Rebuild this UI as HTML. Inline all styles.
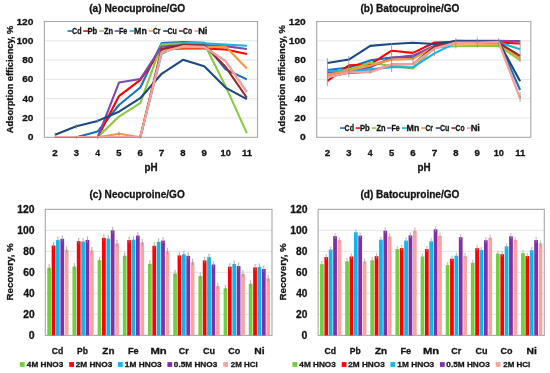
<!DOCTYPE html>
<html><head><meta charset="utf-8"><style>
html,body{margin:0;padding:0;background:#fff;width:550px;height:373px;overflow:hidden}
svg{display:block;will-change:transform}
text{stroke:#141414;stroke-width:0.3px}
</style></head><body>
<svg width="550" height="373" viewBox="0 0 550 373">
<rect width="550" height="373" fill="#fff"/>
<g font-family='"Liberation Sans", sans-serif' font-weight="bold" fill="#141414">
<line x1="44.4" y1="118" x2="257.5" y2="118" stroke="#e2e2e2" stroke-width="0.9"/>
<line x1="44.4" y1="98.7" x2="257.5" y2="98.7" stroke="#e2e2e2" stroke-width="0.9"/>
<line x1="44.4" y1="79.4" x2="257.5" y2="79.4" stroke="#e2e2e2" stroke-width="0.9"/>
<line x1="44.4" y1="60.1" x2="257.5" y2="60.1" stroke="#e2e2e2" stroke-width="0.9"/>
<line x1="44.4" y1="40.8" x2="257.5" y2="40.8" stroke="#e2e2e2" stroke-width="0.9"/>
<rect x="44.4" y="21.5" width="213.1" height="115.8" fill="none" stroke="#a8a8a8" stroke-width="1.1"/>
<clipPath id="cpa"><rect x="44.4" y="21.5" width="213.1" height="115.8"/></clipPath>
<g clip-path="url(#cpa)">
<polyline points="55.05,137.3 76.36,137.3 97.67,131.51 118.98,104.97 140.29,87.51 161.6,43.12 182.91,42.15 204.22,42.73 225.53,69.27 246.84,79.4" fill="none" stroke="#1a70c0" stroke-width="2.1" stroke-linejoin="round"/>
<polyline points="55.05,137.3 76.36,137.3 97.67,137.3 118.98,96.09 140.29,79.88 161.6,49.48 182.91,48.52 204.22,48.52 225.53,49.48 246.84,53.92" fill="none" stroke="#ff0000" stroke-width="2.1" stroke-linejoin="round"/>
<polyline points="55.05,137.3 76.36,137.3 97.67,137.3 118.98,116.55 140.29,103.14 161.6,44.37 182.91,43.41 204.22,43.41 225.53,86.16 246.84,133.15" fill="none" stroke="#8cc840" stroke-width="2.1" stroke-linejoin="round"/>
<polyline points="55.05,137.3 76.36,137.3 97.67,137.3 118.98,82.58 140.29,79.01 161.6,46.59 182.91,45.14 204.22,45.14 225.53,46.11 246.84,49" fill="none" stroke="#7d4aaa" stroke-width="2.1" stroke-linejoin="round"/>
<polyline points="55.05,137.3 76.36,137.3 97.67,137.3 118.98,137.3 140.29,137.3 161.6,53.92 182.91,43.21 204.22,43.21 225.53,44.56 246.84,45.82" fill="none" stroke="#14b4e6" stroke-width="2.1" stroke-linejoin="round"/>
<polyline points="55.05,137.3 76.36,137.3 97.67,137.3 118.98,133.73 140.29,137.3 161.6,49.48 182.91,47.56 204.22,47.56 225.53,46.59 246.84,68.4" fill="none" stroke="#f7963c" stroke-width="2.1" stroke-linejoin="round"/>
<polyline points="55.05,134.79 76.36,126.3 97.67,120.9 118.98,111.73 140.29,98.22 161.6,73.8 182.91,59.81 204.22,66.18 225.53,87.6 246.84,99.09" fill="none" stroke="#1a4a80" stroke-width="2.1" stroke-linejoin="round"/>
<polyline points="55.05,137.3 76.36,137.3 97.67,137.3 118.98,137.3 140.29,137.3 161.6,49.1 182.91,44.85 204.22,45.62 225.53,66.86 246.84,97.74" fill="none" stroke="#962828" stroke-width="2.1" stroke-linejoin="round"/>
<polyline points="55.05,137.3 76.36,137.3 97.67,137.3 118.98,137.3 140.29,137.3 161.6,52.38 182.91,46.3 204.22,47.07 225.53,61.07 246.84,91.95" fill="none" stroke="#f3a09e" stroke-width="2.4" stroke-linejoin="round"/>
</g>
<line x1="55.05" y1="132.67" x2="55.05" y2="136.91" stroke="#8c8c8c" stroke-width="0.8"/>
<line x1="76.36" y1="124.08" x2="76.36" y2="128.52" stroke="#8c8c8c" stroke-width="0.8"/>
<line x1="76.36" y1="135.85" x2="76.36" y2="138.75" stroke="#8c8c8c" stroke-width="0.8"/>
<line x1="97.67" y1="118.77" x2="97.67" y2="123.02" stroke="#8c8c8c" stroke-width="0.8"/>
<line x1="97.67" y1="135.37" x2="97.67" y2="139.23" stroke="#8c8c8c" stroke-width="0.8"/>
<line x1="118.98" y1="131.32" x2="118.98" y2="136.14" stroke="#8c8c8c" stroke-width="0.8"/>
<line x1="140.29" y1="135.85" x2="140.29" y2="138.75" stroke="#8c8c8c" stroke-width="0.8"/>
<text x="52.37" y="155.8" font-size="9.5" textLength="5.43" lengthAdjust="spacingAndGlyphs" >2</text>
<text x="73.8" y="155.8" font-size="9.5" textLength="5.26" lengthAdjust="spacingAndGlyphs" >3</text>
<text x="95.19" y="155.8" font-size="9.5" textLength="4.88" lengthAdjust="spacingAndGlyphs" >4</text>
<text x="116.34" y="155.8" font-size="9.5" textLength="5.25" lengthAdjust="spacingAndGlyphs" >5</text>
<text x="137.59" y="155.8" font-size="9.5" textLength="5.41" lengthAdjust="spacingAndGlyphs" >6</text>
<text x="158.82" y="155.8" font-size="9.5" textLength="5.57" lengthAdjust="spacingAndGlyphs" >7</text>
<text x="180.26" y="155.8" font-size="9.5" textLength="5.3" lengthAdjust="spacingAndGlyphs" >8</text>
<text x="201.54" y="155.8" font-size="9.5" textLength="5.4" lengthAdjust="spacingAndGlyphs" >9</text>
<text x="220.6" y="155.8" font-size="9.5" textLength="10.26" lengthAdjust="spacingAndGlyphs" >10</text>
<text x="241.92" y="155.8" font-size="9.5" textLength="10.13" lengthAdjust="spacingAndGlyphs" >11</text>
<text x="144.6" y="171" font-size="10.2" textLength="13.11" lengthAdjust="spacingAndGlyphs" >pH</text>
<text x="27.69" y="140.35" font-size="9.9" textLength="5.73" lengthAdjust="spacingAndGlyphs" >0</text>
<text x="22.25" y="121.05" font-size="9.9" textLength="11.16" lengthAdjust="spacingAndGlyphs" >20</text>
<text x="22.45" y="101.75" font-size="9.9" textLength="10.95" lengthAdjust="spacingAndGlyphs" >40</text>
<text x="22.23" y="82.45" font-size="9.9" textLength="11.18" lengthAdjust="spacingAndGlyphs" >60</text>
<text x="22.28" y="63.15" font-size="9.9" textLength="11.13" lengthAdjust="spacingAndGlyphs" >80</text>
<text x="16.46" y="43.85" font-size="9.9" textLength="16.96" lengthAdjust="spacingAndGlyphs" >100</text>
<text x="16.46" y="24.55" font-size="9.9" textLength="16.96" lengthAdjust="spacingAndGlyphs" >120</text>
<line x1="67.5" y1="31.05" x2="72.3" y2="31.05" stroke="#1a70c0" stroke-width="1.6"/>
<text x="72.11" y="34.1" font-size="8.4" textLength="9.46" lengthAdjust="spacingAndGlyphs" >Cd</text>
<line x1="83.2" y1="31.05" x2="87.9" y2="31.05" stroke="#ff0000" stroke-width="1.6"/>
<text x="87.49" y="34.1" font-size="8.4" textLength="9.83" lengthAdjust="spacingAndGlyphs" >Pb</text>
<line x1="99.2" y1="31.05" x2="103.9" y2="31.05" stroke="#8cc840" stroke-width="1.6"/>
<text x="103.88" y="34.1" font-size="8.4" textLength="9.08" lengthAdjust="spacingAndGlyphs" >Zn</text>
<line x1="114.6" y1="31.05" x2="119" y2="31.05" stroke="#7d4aaa" stroke-width="1.6"/>
<text x="118.92" y="34.1" font-size="8.4" textLength="8.32" lengthAdjust="spacingAndGlyphs" >Fe</text>
<line x1="129.5" y1="31.05" x2="134.4" y2="31.05" stroke="#14b4e6" stroke-width="1.6"/>
<text x="134.11" y="34.1" font-size="8.4" textLength="12.63" lengthAdjust="spacingAndGlyphs" >Mn</text>
<line x1="148.7" y1="31.05" x2="153.1" y2="31.05" stroke="#f7963c" stroke-width="1.6"/>
<text x="153.02" y="34.1" font-size="8.4" textLength="7.48" lengthAdjust="spacingAndGlyphs" >Cr</text>
<line x1="163.2" y1="31.05" x2="167.7" y2="31.05" stroke="#1a4a80" stroke-width="1.6"/>
<text x="167.51" y="34.1" font-size="8.4" textLength="9.46" lengthAdjust="spacingAndGlyphs" >Cu</text>
<line x1="178.9" y1="31.05" x2="183.2" y2="31.05" stroke="#962828" stroke-width="1.6"/>
<text x="183.02" y="34.1" font-size="8.4" textLength="9.04" lengthAdjust="spacingAndGlyphs" >Co</text>
<line x1="194.4" y1="31.05" x2="198.6" y2="31.05" stroke="#f3a09e" stroke-width="1.6"/>
<text x="198.18" y="34.1" font-size="8.4" textLength="9.28" lengthAdjust="spacingAndGlyphs" >Ni</text>
<line x1="316.7" y1="118" x2="530.8" y2="118" stroke="#e2e2e2" stroke-width="0.9"/>
<line x1="316.7" y1="98.7" x2="530.8" y2="98.7" stroke="#e2e2e2" stroke-width="0.9"/>
<line x1="316.7" y1="79.4" x2="530.8" y2="79.4" stroke="#e2e2e2" stroke-width="0.9"/>
<line x1="316.7" y1="60.1" x2="530.8" y2="60.1" stroke="#e2e2e2" stroke-width="0.9"/>
<line x1="316.7" y1="40.8" x2="530.8" y2="40.8" stroke="#e2e2e2" stroke-width="0.9"/>
<rect x="316.7" y="21.5" width="214.1" height="115.8" fill="none" stroke="#a8a8a8" stroke-width="1.1"/>
<clipPath id="cpb"><rect x="316.7" y="21.5" width="214.1" height="115.8"/></clipPath>
<g clip-path="url(#cpb)">
<polyline points="327.4,70.04 348.81,67.53 370.22,60.39 391.63,57.49 413.04,56.92 434.45,47.56 455.86,40.9 477.27,41.28 498.68,41.28 520.1,90.02" fill="none" stroke="#1a70c0" stroke-width="2.1" stroke-linejoin="round"/>
<polyline points="327.4,80.94 348.81,65.41 370.22,64.44 391.63,50.74 413.04,52.86 434.45,42.44 455.86,41.77 477.27,42.25 498.68,42.73 520.1,43.5" fill="none" stroke="#ff0000" stroke-width="2.1" stroke-linejoin="round"/>
<polyline points="327.4,72.65 348.81,69.65 370.22,62.8 391.63,66.08 413.04,68.4 434.45,47.56 455.86,46.3 477.27,46.01 498.68,45.62 520.1,60.49" fill="none" stroke="#8cc840" stroke-width="2.1" stroke-linejoin="round"/>
<polyline points="327.4,72.36 348.81,71.68 370.22,67.24 391.63,57.78 413.04,55.66 434.45,45.62 455.86,40.9 477.27,40.9 498.68,40.9 520.1,41.09" fill="none" stroke="#7d4aaa" stroke-width="2.1" stroke-linejoin="round"/>
<polyline points="327.4,70.91 348.81,71.68 370.22,69.36 391.63,67.24 413.04,67.24 434.45,53.34 455.86,42.73 477.27,42.25 498.68,42.25 520.1,49.2" fill="none" stroke="#14b4e6" stroke-width="2.1" stroke-linejoin="round"/>
<polyline points="327.4,74.77 348.81,70.72 370.22,65.5 391.63,59.62 413.04,58.85 434.45,46.59 455.86,43.7 477.27,43.7 498.68,43.7 520.1,58.17" fill="none" stroke="#f7963c" stroke-width="2.1" stroke-linejoin="round"/>
<polyline points="327.4,63 348.81,59.52 370.22,45.91 391.63,43.98 413.04,42.73 434.45,43.98 455.86,41.28 477.27,41.28 498.68,41.77 520.1,81.33" fill="none" stroke="#1a4a80" stroke-width="2.1" stroke-linejoin="round"/>
<polyline points="327.4,76.99 348.81,72.84 370.22,71.68 391.63,64.44 413.04,63.96 434.45,46.59 455.86,42.73 477.27,42.73 498.68,42.73 520.1,55.85" fill="none" stroke="#962828" stroke-width="2.1" stroke-linejoin="round"/>
<polyline points="327.4,77.28 348.81,72.36 370.22,72.07 391.63,64.44 413.04,63.96 434.45,48.71 455.86,42.73 477.27,42.73 498.68,42.25 520.1,98.41" fill="none" stroke="#f3a09e" stroke-width="2.4" stroke-linejoin="round"/>
</g>
<line x1="327.4" y1="57.98" x2="327.4" y2="85.96" stroke="#8c8c8c" stroke-width="0.8"/>
<line x1="348.81" y1="55.95" x2="348.81" y2="76.79" stroke="#8c8c8c" stroke-width="0.8"/>
<line x1="391.63" y1="42.83" x2="391.63" y2="72.16" stroke="#8c8c8c" stroke-width="0.8"/>
<line x1="413.04" y1="50.45" x2="413.04" y2="64.93" stroke="#8c8c8c" stroke-width="0.8"/>
<line x1="370.22" y1="68.79" x2="370.22" y2="73.61" stroke="#8c8c8c" stroke-width="0.8"/>
<line x1="434.45" y1="48.42" x2="434.45" y2="56.34" stroke="#8c8c8c" stroke-width="0.8"/>
<line x1="455.86" y1="38.19" x2="455.86" y2="48.42" stroke="#8c8c8c" stroke-width="0.8"/>
<line x1="477.27" y1="37.52" x2="477.27" y2="47.56" stroke="#8c8c8c" stroke-width="0.8"/>
<line x1="498.68" y1="38.19" x2="498.68" y2="47.27" stroke="#8c8c8c" stroke-width="0.8"/>
<line x1="520.1" y1="91.85" x2="520.1" y2="101.69" stroke="#8c8c8c" stroke-width="0.8"/>
<line x1="520.1" y1="39.84" x2="520.1" y2="62.03" stroke="#8c8c8c" stroke-width="0.8"/>
<text x="324.72" y="155.8" font-size="9.5" textLength="5.43" lengthAdjust="spacingAndGlyphs" >2</text>
<text x="346.25" y="155.8" font-size="9.5" textLength="5.26" lengthAdjust="spacingAndGlyphs" >3</text>
<text x="367.74" y="155.8" font-size="9.5" textLength="4.88" lengthAdjust="spacingAndGlyphs" >4</text>
<text x="388.99" y="155.8" font-size="9.5" textLength="5.25" lengthAdjust="spacingAndGlyphs" >5</text>
<text x="410.34" y="155.8" font-size="9.5" textLength="5.41" lengthAdjust="spacingAndGlyphs" >6</text>
<text x="431.67" y="155.8" font-size="9.5" textLength="5.57" lengthAdjust="spacingAndGlyphs" >7</text>
<text x="453.21" y="155.8" font-size="9.5" textLength="5.3" lengthAdjust="spacingAndGlyphs" >8</text>
<text x="474.59" y="155.8" font-size="9.5" textLength="5.4" lengthAdjust="spacingAndGlyphs" >9</text>
<text x="493.75" y="155.8" font-size="9.5" textLength="10.26" lengthAdjust="spacingAndGlyphs" >10</text>
<text x="515.17" y="155.8" font-size="9.5" textLength="10.13" lengthAdjust="spacingAndGlyphs" >11</text>
<text x="417.4" y="171" font-size="10.2" textLength="13.11" lengthAdjust="spacingAndGlyphs" >pH</text>
<text x="299.99" y="140.35" font-size="9.9" textLength="5.73" lengthAdjust="spacingAndGlyphs" >0</text>
<text x="294.55" y="121.05" font-size="9.9" textLength="11.16" lengthAdjust="spacingAndGlyphs" >20</text>
<text x="294.75" y="101.75" font-size="9.9" textLength="10.95" lengthAdjust="spacingAndGlyphs" >40</text>
<text x="294.53" y="82.45" font-size="9.9" textLength="11.18" lengthAdjust="spacingAndGlyphs" >60</text>
<text x="294.58" y="63.15" font-size="9.9" textLength="11.13" lengthAdjust="spacingAndGlyphs" >80</text>
<text x="288.76" y="43.85" font-size="9.9" textLength="16.96" lengthAdjust="spacingAndGlyphs" >100</text>
<text x="288.76" y="24.55" font-size="9.9" textLength="16.96" lengthAdjust="spacingAndGlyphs" >120</text>
<line x1="340" y1="128.05" x2="344.8" y2="128.05" stroke="#1a70c0" stroke-width="1.6"/>
<text x="344.61" y="131.1" font-size="8.4" textLength="9.46" lengthAdjust="spacingAndGlyphs" >Cd</text>
<line x1="355.7" y1="128.05" x2="360.4" y2="128.05" stroke="#ff0000" stroke-width="1.6"/>
<text x="359.99" y="131.1" font-size="8.4" textLength="9.83" lengthAdjust="spacingAndGlyphs" >Pb</text>
<line x1="371.7" y1="128.05" x2="376.4" y2="128.05" stroke="#8cc840" stroke-width="1.6"/>
<text x="376.38" y="131.1" font-size="8.4" textLength="9.08" lengthAdjust="spacingAndGlyphs" >Zn</text>
<line x1="387.1" y1="128.05" x2="391.5" y2="128.05" stroke="#7d4aaa" stroke-width="1.6"/>
<text x="391.42" y="131.1" font-size="8.4" textLength="8.32" lengthAdjust="spacingAndGlyphs" >Fe</text>
<line x1="402" y1="128.05" x2="406.9" y2="128.05" stroke="#14b4e6" stroke-width="1.6"/>
<text x="406.61" y="131.1" font-size="8.4" textLength="12.63" lengthAdjust="spacingAndGlyphs" >Mn</text>
<line x1="421.2" y1="128.05" x2="425.6" y2="128.05" stroke="#f7963c" stroke-width="1.6"/>
<text x="425.52" y="131.1" font-size="8.4" textLength="7.48" lengthAdjust="spacingAndGlyphs" >Cr</text>
<line x1="435.7" y1="128.05" x2="440.2" y2="128.05" stroke="#1a4a80" stroke-width="1.6"/>
<text x="440.01" y="131.1" font-size="8.4" textLength="9.46" lengthAdjust="spacingAndGlyphs" >Cu</text>
<line x1="451.4" y1="128.05" x2="455.7" y2="128.05" stroke="#962828" stroke-width="1.6"/>
<text x="455.52" y="131.1" font-size="8.4" textLength="9.04" lengthAdjust="spacingAndGlyphs" >Co</text>
<line x1="466.9" y1="128.05" x2="471.1" y2="128.05" stroke="#f3a09e" stroke-width="1.6"/>
<text x="470.68" y="131.1" font-size="8.4" textLength="9.28" lengthAdjust="spacingAndGlyphs" >Ni</text>
<line x1="45.3" y1="314.39" x2="272" y2="314.39" stroke="#e2e2e2" stroke-width="0.9"/>
<line x1="45.3" y1="293.38" x2="272" y2="293.38" stroke="#e2e2e2" stroke-width="0.9"/>
<line x1="45.3" y1="272.38" x2="272" y2="272.38" stroke="#e2e2e2" stroke-width="0.9"/>
<line x1="45.3" y1="251.37" x2="272" y2="251.37" stroke="#e2e2e2" stroke-width="0.9"/>
<line x1="45.3" y1="230.36" x2="272" y2="230.36" stroke="#e2e2e2" stroke-width="0.9"/>
<rect x="45.3" y="209.35" width="226.7" height="126.05" fill="none" stroke="#a8a8a8" stroke-width="1.1"/>
<rect x="47.26" y="267.75" width="3.75" height="67.65" fill="#70d040"/>
<line x1="49.13" y1="264.65" x2="49.13" y2="270.85" stroke="#8c8c8c" stroke-width="0.7"/>
<line x1="48.33" y1="264.65" x2="49.93" y2="264.65" stroke="#b0b0b0" stroke-width="0.5"/>
<rect x="51.64" y="245.48" width="3.75" height="89.92" fill="#ff0000"/>
<line x1="53.51" y1="242.38" x2="53.51" y2="248.58" stroke="#8c8c8c" stroke-width="0.7"/>
<line x1="52.71" y1="242.38" x2="54.31" y2="242.38" stroke="#b0b0b0" stroke-width="0.5"/>
<rect x="56.02" y="240.13" width="3.75" height="95.27" fill="#0db8f0"/>
<line x1="57.89" y1="237.03" x2="57.89" y2="243.23" stroke="#8c8c8c" stroke-width="0.7"/>
<line x1="57.09" y1="237.03" x2="58.69" y2="237.03" stroke="#b0b0b0" stroke-width="0.5"/>
<rect x="60.4" y="238.87" width="3.75" height="96.53" fill="#7f2faa"/>
<line x1="62.27" y1="235.77" x2="62.27" y2="241.97" stroke="#8c8c8c" stroke-width="0.7"/>
<line x1="61.47" y1="235.77" x2="63.07" y2="235.77" stroke="#b0b0b0" stroke-width="0.5"/>
<rect x="64.78" y="249.79" width="3.75" height="85.61" fill="#fba3a3"/>
<line x1="66.65" y1="246.69" x2="66.65" y2="252.89" stroke="#8c8c8c" stroke-width="0.7"/>
<line x1="65.85" y1="246.69" x2="67.45" y2="246.69" stroke="#b0b0b0" stroke-width="0.5"/>
<text x="51.84" y="353.6" font-size="9.6" textLength="11.52" lengthAdjust="spacingAndGlyphs" >Cd</text>
<rect x="72.45" y="266.6" width="3.75" height="68.8" fill="#70d040"/>
<line x1="74.32" y1="263.5" x2="74.32" y2="269.7" stroke="#8c8c8c" stroke-width="0.7"/>
<line x1="73.52" y1="263.5" x2="75.12" y2="263.5" stroke="#b0b0b0" stroke-width="0.5"/>
<rect x="76.83" y="241.18" width="3.75" height="94.22" fill="#ff0000"/>
<line x1="78.7" y1="238.08" x2="78.7" y2="244.28" stroke="#8c8c8c" stroke-width="0.7"/>
<line x1="77.9" y1="238.08" x2="79.5" y2="238.08" stroke="#b0b0b0" stroke-width="0.5"/>
<rect x="81.21" y="241.6" width="3.75" height="93.8" fill="#0db8f0"/>
<line x1="83.08" y1="238.5" x2="83.08" y2="244.7" stroke="#8c8c8c" stroke-width="0.7"/>
<line x1="82.28" y1="238.5" x2="83.88" y2="238.5" stroke="#b0b0b0" stroke-width="0.5"/>
<rect x="85.59" y="239.92" width="3.75" height="95.48" fill="#7f2faa"/>
<line x1="87.46" y1="236.82" x2="87.46" y2="243.02" stroke="#8c8c8c" stroke-width="0.7"/>
<line x1="86.66" y1="236.82" x2="88.26" y2="236.82" stroke="#b0b0b0" stroke-width="0.5"/>
<rect x="89.97" y="250.53" width="3.75" height="84.87" fill="#fba3a3"/>
<line x1="91.84" y1="247.43" x2="91.84" y2="253.63" stroke="#8c8c8c" stroke-width="0.7"/>
<line x1="91.04" y1="247.43" x2="92.64" y2="247.43" stroke="#b0b0b0" stroke-width="0.5"/>
<text x="77.11" y="353.6" font-size="9.6" textLength="10.92" lengthAdjust="spacingAndGlyphs" >Pb</text>
<rect x="97.64" y="260.3" width="3.75" height="75.1" fill="#70d040"/>
<line x1="99.51" y1="257.2" x2="99.51" y2="263.4" stroke="#8c8c8c" stroke-width="0.7"/>
<line x1="98.71" y1="257.2" x2="100.31" y2="257.2" stroke="#b0b0b0" stroke-width="0.5"/>
<rect x="102.02" y="237.82" width="3.75" height="97.58" fill="#ff0000"/>
<line x1="103.89" y1="234.72" x2="103.89" y2="240.92" stroke="#8c8c8c" stroke-width="0.7"/>
<line x1="103.09" y1="234.72" x2="104.69" y2="234.72" stroke="#b0b0b0" stroke-width="0.5"/>
<rect x="106.4" y="238.66" width="3.75" height="96.74" fill="#0db8f0"/>
<line x1="108.27" y1="235.56" x2="108.27" y2="241.76" stroke="#8c8c8c" stroke-width="0.7"/>
<line x1="107.47" y1="235.56" x2="109.07" y2="235.56" stroke="#b0b0b0" stroke-width="0.5"/>
<rect x="110.78" y="230.36" width="3.75" height="105.04" fill="#7f2faa"/>
<line x1="112.65" y1="227.26" x2="112.65" y2="233.46" stroke="#8c8c8c" stroke-width="0.7"/>
<line x1="111.85" y1="227.26" x2="113.45" y2="227.26" stroke="#b0b0b0" stroke-width="0.5"/>
<rect x="115.16" y="243.38" width="3.75" height="92.02" fill="#fba3a3"/>
<line x1="117.03" y1="240.28" x2="117.03" y2="246.48" stroke="#8c8c8c" stroke-width="0.7"/>
<line x1="116.23" y1="240.28" x2="117.83" y2="240.28" stroke="#b0b0b0" stroke-width="0.5"/>
<text x="102.33" y="353.6" font-size="9.6" textLength="12.11" lengthAdjust="spacingAndGlyphs" >Zn</text>
<rect x="122.83" y="255.78" width="3.75" height="79.62" fill="#70d040"/>
<line x1="124.7" y1="252.68" x2="124.7" y2="258.88" stroke="#8c8c8c" stroke-width="0.7"/>
<line x1="123.9" y1="252.68" x2="125.5" y2="252.68" stroke="#b0b0b0" stroke-width="0.5"/>
<rect x="127.21" y="240.13" width="3.75" height="95.27" fill="#ff0000"/>
<line x1="129.08" y1="237.03" x2="129.08" y2="243.23" stroke="#8c8c8c" stroke-width="0.7"/>
<line x1="128.28" y1="237.03" x2="129.88" y2="237.03" stroke="#b0b0b0" stroke-width="0.5"/>
<rect x="131.59" y="239.71" width="3.75" height="95.69" fill="#0db8f0"/>
<line x1="133.46" y1="236.61" x2="133.46" y2="242.81" stroke="#8c8c8c" stroke-width="0.7"/>
<line x1="132.66" y1="236.61" x2="134.26" y2="236.61" stroke="#b0b0b0" stroke-width="0.5"/>
<rect x="135.97" y="235.61" width="3.75" height="99.79" fill="#7f2faa"/>
<line x1="137.84" y1="232.51" x2="137.84" y2="238.71" stroke="#8c8c8c" stroke-width="0.7"/>
<line x1="137.04" y1="232.51" x2="138.64" y2="232.51" stroke="#b0b0b0" stroke-width="0.5"/>
<rect x="140.35" y="242.44" width="3.75" height="92.96" fill="#fba3a3"/>
<line x1="142.22" y1="239.34" x2="142.22" y2="245.54" stroke="#8c8c8c" stroke-width="0.7"/>
<line x1="141.42" y1="239.34" x2="143.02" y2="239.34" stroke="#b0b0b0" stroke-width="0.5"/>
<text x="127.9" y="353.6" font-size="9.6" textLength="10.73" lengthAdjust="spacingAndGlyphs" >Fe</text>
<rect x="148.01" y="263.87" width="3.75" height="71.53" fill="#70d040"/>
<line x1="149.89" y1="260.77" x2="149.89" y2="266.97" stroke="#8c8c8c" stroke-width="0.7"/>
<line x1="149.09" y1="260.77" x2="150.69" y2="260.77" stroke="#b0b0b0" stroke-width="0.5"/>
<rect x="152.39" y="245.8" width="3.75" height="89.6" fill="#ff0000"/>
<line x1="154.27" y1="242.7" x2="154.27" y2="248.9" stroke="#8c8c8c" stroke-width="0.7"/>
<line x1="153.47" y1="242.7" x2="155.07" y2="242.7" stroke="#b0b0b0" stroke-width="0.5"/>
<rect x="156.77" y="241.81" width="3.75" height="93.59" fill="#0db8f0"/>
<line x1="158.65" y1="238.71" x2="158.65" y2="244.91" stroke="#8c8c8c" stroke-width="0.7"/>
<line x1="157.85" y1="238.71" x2="159.45" y2="238.71" stroke="#b0b0b0" stroke-width="0.5"/>
<rect x="161.15" y="240.65" width="3.75" height="94.75" fill="#7f2faa"/>
<line x1="163.03" y1="237.55" x2="163.03" y2="243.75" stroke="#8c8c8c" stroke-width="0.7"/>
<line x1="162.23" y1="237.55" x2="163.83" y2="237.55" stroke="#b0b0b0" stroke-width="0.5"/>
<rect x="165.53" y="251.26" width="3.75" height="84.14" fill="#fba3a3"/>
<line x1="167.41" y1="248.16" x2="167.41" y2="254.36" stroke="#8c8c8c" stroke-width="0.7"/>
<line x1="166.61" y1="248.16" x2="168.21" y2="248.16" stroke="#b0b0b0" stroke-width="0.5"/>
<text x="150.45" y="353.6" font-size="9.6" textLength="16.25" lengthAdjust="spacingAndGlyphs" >Mn</text>
<rect x="173.2" y="273.53" width="3.75" height="61.87" fill="#70d040"/>
<line x1="175.08" y1="270.43" x2="175.08" y2="276.63" stroke="#8c8c8c" stroke-width="0.7"/>
<line x1="174.28" y1="270.43" x2="175.88" y2="270.43" stroke="#b0b0b0" stroke-width="0.5"/>
<rect x="177.58" y="255.36" width="3.75" height="80.04" fill="#ff0000"/>
<line x1="179.46" y1="252.26" x2="179.46" y2="258.46" stroke="#8c8c8c" stroke-width="0.7"/>
<line x1="178.66" y1="252.26" x2="180.26" y2="252.26" stroke="#b0b0b0" stroke-width="0.5"/>
<rect x="181.96" y="254.31" width="3.75" height="81.09" fill="#0db8f0"/>
<line x1="183.84" y1="251.21" x2="183.84" y2="257.41" stroke="#8c8c8c" stroke-width="0.7"/>
<line x1="183.04" y1="251.21" x2="184.64" y2="251.21" stroke="#b0b0b0" stroke-width="0.5"/>
<rect x="186.34" y="255.88" width="3.75" height="79.52" fill="#7f2faa"/>
<line x1="188.22" y1="252.78" x2="188.22" y2="258.98" stroke="#8c8c8c" stroke-width="0.7"/>
<line x1="187.42" y1="252.78" x2="189.02" y2="252.78" stroke="#b0b0b0" stroke-width="0.5"/>
<rect x="190.72" y="262.19" width="3.75" height="73.21" fill="#fba3a3"/>
<line x1="192.6" y1="259.09" x2="192.6" y2="265.29" stroke="#8c8c8c" stroke-width="0.7"/>
<line x1="191.8" y1="259.09" x2="193.4" y2="259.09" stroke="#b0b0b0" stroke-width="0.5"/>
<text x="178.72" y="353.6" font-size="9.6" textLength="9.9" lengthAdjust="spacingAndGlyphs" >Cr</text>
<rect x="198.39" y="276.05" width="3.75" height="59.35" fill="#70d040"/>
<line x1="200.27" y1="272.95" x2="200.27" y2="279.15" stroke="#8c8c8c" stroke-width="0.7"/>
<line x1="199.47" y1="272.95" x2="201.07" y2="272.95" stroke="#b0b0b0" stroke-width="0.5"/>
<rect x="202.77" y="260.4" width="3.75" height="75" fill="#ff0000"/>
<line x1="204.65" y1="257.3" x2="204.65" y2="263.5" stroke="#8c8c8c" stroke-width="0.7"/>
<line x1="203.85" y1="257.3" x2="205.45" y2="257.3" stroke="#b0b0b0" stroke-width="0.5"/>
<rect x="207.15" y="257.14" width="3.75" height="78.26" fill="#0db8f0"/>
<line x1="209.03" y1="254.04" x2="209.03" y2="260.24" stroke="#8c8c8c" stroke-width="0.7"/>
<line x1="208.23" y1="254.04" x2="209.83" y2="254.04" stroke="#b0b0b0" stroke-width="0.5"/>
<rect x="211.53" y="264.5" width="3.75" height="70.9" fill="#7f2faa"/>
<line x1="213.41" y1="261.4" x2="213.41" y2="267.6" stroke="#8c8c8c" stroke-width="0.7"/>
<line x1="212.61" y1="261.4" x2="214.21" y2="261.4" stroke="#b0b0b0" stroke-width="0.5"/>
<rect x="215.91" y="286.24" width="3.75" height="49.16" fill="#fba3a3"/>
<line x1="217.79" y1="283.14" x2="217.79" y2="289.34" stroke="#8c8c8c" stroke-width="0.7"/>
<line x1="216.99" y1="283.14" x2="218.59" y2="283.14" stroke="#b0b0b0" stroke-width="0.5"/>
<text x="203.06" y="353.6" font-size="9.6" textLength="12.07" lengthAdjust="spacingAndGlyphs" >Cu</text>
<rect x="223.58" y="288.34" width="3.75" height="47.06" fill="#70d040"/>
<line x1="225.46" y1="285.24" x2="225.46" y2="291.44" stroke="#8c8c8c" stroke-width="0.7"/>
<line x1="224.66" y1="285.24" x2="226.26" y2="285.24" stroke="#b0b0b0" stroke-width="0.5"/>
<rect x="227.96" y="266.7" width="3.75" height="68.7" fill="#ff0000"/>
<line x1="229.84" y1="263.6" x2="229.84" y2="269.8" stroke="#8c8c8c" stroke-width="0.7"/>
<line x1="229.04" y1="263.6" x2="230.64" y2="263.6" stroke="#b0b0b0" stroke-width="0.5"/>
<rect x="232.34" y="264.08" width="3.75" height="71.32" fill="#0db8f0"/>
<line x1="234.22" y1="260.98" x2="234.22" y2="267.18" stroke="#8c8c8c" stroke-width="0.7"/>
<line x1="233.42" y1="260.98" x2="235.02" y2="260.98" stroke="#b0b0b0" stroke-width="0.5"/>
<rect x="236.72" y="266.07" width="3.75" height="69.33" fill="#7f2faa"/>
<line x1="238.6" y1="262.97" x2="238.6" y2="269.17" stroke="#8c8c8c" stroke-width="0.7"/>
<line x1="237.8" y1="262.97" x2="239.4" y2="262.97" stroke="#b0b0b0" stroke-width="0.5"/>
<rect x="241.1" y="273.74" width="3.75" height="61.66" fill="#fba3a3"/>
<line x1="242.98" y1="270.64" x2="242.98" y2="276.84" stroke="#8c8c8c" stroke-width="0.7"/>
<line x1="242.18" y1="270.64" x2="243.78" y2="270.64" stroke="#b0b0b0" stroke-width="0.5"/>
<text x="228.15" y="353.6" font-size="9.6" textLength="12.02" lengthAdjust="spacingAndGlyphs" >Co</text>
<rect x="248.77" y="283.72" width="3.75" height="51.68" fill="#70d040"/>
<line x1="250.65" y1="280.62" x2="250.65" y2="286.82" stroke="#8c8c8c" stroke-width="0.7"/>
<line x1="249.85" y1="280.62" x2="251.45" y2="280.62" stroke="#b0b0b0" stroke-width="0.5"/>
<rect x="253.15" y="267.44" width="3.75" height="67.96" fill="#ff0000"/>
<line x1="255.03" y1="264.34" x2="255.03" y2="270.54" stroke="#8c8c8c" stroke-width="0.7"/>
<line x1="254.23" y1="264.34" x2="255.83" y2="264.34" stroke="#b0b0b0" stroke-width="0.5"/>
<rect x="257.53" y="266.91" width="3.75" height="68.49" fill="#0db8f0"/>
<line x1="259.41" y1="263.81" x2="259.41" y2="270.01" stroke="#8c8c8c" stroke-width="0.7"/>
<line x1="258.61" y1="263.81" x2="260.21" y2="263.81" stroke="#b0b0b0" stroke-width="0.5"/>
<rect x="261.91" y="269.01" width="3.75" height="66.39" fill="#7f2faa"/>
<line x1="263.79" y1="265.91" x2="263.79" y2="272.11" stroke="#8c8c8c" stroke-width="0.7"/>
<line x1="262.99" y1="265.91" x2="264.59" y2="265.91" stroke="#b0b0b0" stroke-width="0.5"/>
<rect x="266.29" y="278.47" width="3.75" height="56.93" fill="#fba3a3"/>
<line x1="268.17" y1="275.37" x2="268.17" y2="281.57" stroke="#8c8c8c" stroke-width="0.7"/>
<line x1="267.37" y1="275.37" x2="268.97" y2="275.37" stroke="#b0b0b0" stroke-width="0.5"/>
<text x="254.22" y="353.6" font-size="9.6" textLength="10.32" lengthAdjust="spacingAndGlyphs" >Ni</text>
<text x="28.78" y="338.75" font-size="10.1" textLength="5.85" lengthAdjust="spacingAndGlyphs" >0</text>
<text x="23.25" y="317.74" font-size="10.1" textLength="11.37" lengthAdjust="spacingAndGlyphs" >20</text>
<text x="23.45" y="296.73" font-size="10.1" textLength="11.16" lengthAdjust="spacingAndGlyphs" >40</text>
<text x="23.22" y="275.73" font-size="10.1" textLength="11.4" lengthAdjust="spacingAndGlyphs" >60</text>
<text x="23.28" y="254.72" font-size="10.1" textLength="11.34" lengthAdjust="spacingAndGlyphs" >80</text>
<text x="17.35" y="233.71" font-size="10.1" textLength="17.28" lengthAdjust="spacingAndGlyphs" >100</text>
<text x="17.35" y="212.7" font-size="10.1" textLength="17.28" lengthAdjust="spacingAndGlyphs" >120</text>
<rect x="19.9" y="362.1" width="4.8" height="4.8" fill="#70d040"/>
<text x="26.88" y="366.8" font-size="8" textLength="36.42" lengthAdjust="spacingAndGlyphs" >4M HNO3</text>
<rect x="69.2" y="362.1" width="4.8" height="4.8" fill="#ff0000"/>
<text x="75.71" y="366.8" font-size="8" textLength="36.58" lengthAdjust="spacingAndGlyphs" >2M HNO3</text>
<rect x="117.9" y="362.1" width="4.8" height="4.8" fill="#0db8f0"/>
<text x="124.88" y="366.8" font-size="8" textLength="36.82" lengthAdjust="spacingAndGlyphs" >1M HNO3</text>
<rect x="167.4" y="362.1" width="4.8" height="4.8" fill="#7f2faa"/>
<text x="173.88" y="366.8" font-size="8" textLength="43.32" lengthAdjust="spacingAndGlyphs" >0.5M HNO3</text>
<rect x="223.2" y="362.1" width="4.8" height="4.8" fill="#fba3a3"/>
<text x="230.72" y="366.8" font-size="8" textLength="26.94" lengthAdjust="spacingAndGlyphs" >2M HCl</text>
<line x1="318.1" y1="314.39" x2="544.3" y2="314.39" stroke="#e2e2e2" stroke-width="0.9"/>
<line x1="318.1" y1="293.38" x2="544.3" y2="293.38" stroke="#e2e2e2" stroke-width="0.9"/>
<line x1="318.1" y1="272.38" x2="544.3" y2="272.38" stroke="#e2e2e2" stroke-width="0.9"/>
<line x1="318.1" y1="251.37" x2="544.3" y2="251.37" stroke="#e2e2e2" stroke-width="0.9"/>
<line x1="318.1" y1="230.36" x2="544.3" y2="230.36" stroke="#e2e2e2" stroke-width="0.9"/>
<rect x="318.1" y="209.35" width="226.2" height="126.05" fill="none" stroke="#a8a8a8" stroke-width="1.1"/>
<rect x="320.03" y="264.18" width="3.75" height="71.22" fill="#70d040"/>
<line x1="321.91" y1="261.58" x2="321.91" y2="266.78" stroke="#a4a4a4" stroke-width="0.7"/>
<line x1="321.11" y1="261.58" x2="322.71" y2="261.58" stroke="#b0b0b0" stroke-width="0.5"/>
<rect x="324.41" y="257.04" width="3.75" height="78.36" fill="#ff0000"/>
<line x1="326.29" y1="254.44" x2="326.29" y2="259.64" stroke="#a4a4a4" stroke-width="0.7"/>
<line x1="325.49" y1="254.44" x2="327.09" y2="254.44" stroke="#b0b0b0" stroke-width="0.5"/>
<rect x="328.79" y="249.58" width="3.75" height="85.82" fill="#0db8f0"/>
<line x1="330.67" y1="246.98" x2="330.67" y2="252.18" stroke="#a4a4a4" stroke-width="0.7"/>
<line x1="329.87" y1="246.98" x2="331.47" y2="246.98" stroke="#b0b0b0" stroke-width="0.5"/>
<rect x="333.17" y="236.14" width="3.75" height="99.26" fill="#7f2faa"/>
<line x1="335.05" y1="233.54" x2="335.05" y2="238.74" stroke="#a4a4a4" stroke-width="0.7"/>
<line x1="334.25" y1="233.54" x2="335.85" y2="233.54" stroke="#b0b0b0" stroke-width="0.5"/>
<rect x="337.55" y="240.13" width="3.75" height="95.27" fill="#fba3a3"/>
<line x1="339.43" y1="237.53" x2="339.43" y2="242.73" stroke="#a4a4a4" stroke-width="0.7"/>
<line x1="338.63" y1="237.53" x2="340.23" y2="237.53" stroke="#b0b0b0" stroke-width="0.5"/>
<text x="324.61" y="353.6" font-size="9.6" textLength="11.52" lengthAdjust="spacingAndGlyphs" >Cd</text>
<rect x="345.17" y="261.35" width="3.75" height="74.05" fill="#70d040"/>
<line x1="347.04" y1="258.75" x2="347.04" y2="263.95" stroke="#a4a4a4" stroke-width="0.7"/>
<line x1="346.24" y1="258.75" x2="347.84" y2="258.75" stroke="#b0b0b0" stroke-width="0.5"/>
<rect x="349.55" y="256.51" width="3.75" height="78.89" fill="#ff0000"/>
<line x1="351.42" y1="253.91" x2="351.42" y2="259.11" stroke="#a4a4a4" stroke-width="0.7"/>
<line x1="350.62" y1="253.91" x2="352.22" y2="253.91" stroke="#b0b0b0" stroke-width="0.5"/>
<rect x="353.93" y="232.25" width="3.75" height="103.15" fill="#0db8f0"/>
<line x1="355.8" y1="229.65" x2="355.8" y2="234.85" stroke="#a4a4a4" stroke-width="0.7"/>
<line x1="355" y1="229.65" x2="356.6" y2="229.65" stroke="#b0b0b0" stroke-width="0.5"/>
<rect x="358.31" y="235.61" width="3.75" height="99.79" fill="#7f2faa"/>
<line x1="360.18" y1="233.01" x2="360.18" y2="238.21" stroke="#a4a4a4" stroke-width="0.7"/>
<line x1="359.38" y1="233.01" x2="360.98" y2="233.01" stroke="#b0b0b0" stroke-width="0.5"/>
<rect x="362.69" y="261.35" width="3.75" height="74.05" fill="#fba3a3"/>
<line x1="364.56" y1="258.75" x2="364.56" y2="263.95" stroke="#a4a4a4" stroke-width="0.7"/>
<line x1="363.76" y1="258.75" x2="365.36" y2="258.75" stroke="#b0b0b0" stroke-width="0.5"/>
<text x="349.83" y="353.6" font-size="9.6" textLength="10.92" lengthAdjust="spacingAndGlyphs" >Pb</text>
<rect x="370.3" y="260.3" width="3.75" height="75.1" fill="#70d040"/>
<line x1="372.17" y1="257.7" x2="372.17" y2="262.9" stroke="#a4a4a4" stroke-width="0.7"/>
<line x1="371.37" y1="257.7" x2="372.97" y2="257.7" stroke="#b0b0b0" stroke-width="0.5"/>
<rect x="374.68" y="256.2" width="3.75" height="79.2" fill="#ff0000"/>
<line x1="376.55" y1="253.6" x2="376.55" y2="258.8" stroke="#a4a4a4" stroke-width="0.7"/>
<line x1="375.75" y1="253.6" x2="377.35" y2="253.6" stroke="#b0b0b0" stroke-width="0.5"/>
<rect x="379.06" y="239.71" width="3.75" height="95.69" fill="#0db8f0"/>
<line x1="380.93" y1="237.11" x2="380.93" y2="242.31" stroke="#a4a4a4" stroke-width="0.7"/>
<line x1="380.13" y1="237.11" x2="381.73" y2="237.11" stroke="#b0b0b0" stroke-width="0.5"/>
<rect x="383.44" y="230.67" width="3.75" height="104.73" fill="#7f2faa"/>
<line x1="385.31" y1="228.07" x2="385.31" y2="233.27" stroke="#a4a4a4" stroke-width="0.7"/>
<line x1="384.51" y1="228.07" x2="386.11" y2="228.07" stroke="#b0b0b0" stroke-width="0.5"/>
<rect x="387.82" y="236.45" width="3.75" height="98.95" fill="#fba3a3"/>
<line x1="389.69" y1="233.85" x2="389.69" y2="239.05" stroke="#a4a4a4" stroke-width="0.7"/>
<line x1="388.89" y1="233.85" x2="390.49" y2="233.85" stroke="#b0b0b0" stroke-width="0.5"/>
<text x="374.99" y="353.6" font-size="9.6" textLength="12.11" lengthAdjust="spacingAndGlyphs" >Zn</text>
<rect x="395.43" y="249.06" width="3.75" height="86.34" fill="#70d040"/>
<line x1="397.31" y1="246.46" x2="397.31" y2="251.66" stroke="#a4a4a4" stroke-width="0.7"/>
<line x1="396.51" y1="246.46" x2="398.11" y2="246.46" stroke="#b0b0b0" stroke-width="0.5"/>
<rect x="399.81" y="248.11" width="3.75" height="87.29" fill="#ff0000"/>
<line x1="401.69" y1="245.51" x2="401.69" y2="250.71" stroke="#a4a4a4" stroke-width="0.7"/>
<line x1="400.89" y1="245.51" x2="402.49" y2="245.51" stroke="#b0b0b0" stroke-width="0.5"/>
<rect x="404.19" y="240.55" width="3.75" height="94.85" fill="#0db8f0"/>
<line x1="406.07" y1="237.95" x2="406.07" y2="243.15" stroke="#a4a4a4" stroke-width="0.7"/>
<line x1="405.27" y1="237.95" x2="406.87" y2="237.95" stroke="#b0b0b0" stroke-width="0.5"/>
<rect x="408.57" y="235.4" width="3.75" height="100" fill="#7f2faa"/>
<line x1="410.45" y1="232.8" x2="410.45" y2="238" stroke="#a4a4a4" stroke-width="0.7"/>
<line x1="409.65" y1="232.8" x2="411.25" y2="232.8" stroke="#b0b0b0" stroke-width="0.5"/>
<rect x="412.95" y="230.67" width="3.75" height="104.73" fill="#fba3a3"/>
<line x1="414.83" y1="228.07" x2="414.83" y2="233.27" stroke="#a4a4a4" stroke-width="0.7"/>
<line x1="414.03" y1="228.07" x2="415.63" y2="228.07" stroke="#b0b0b0" stroke-width="0.5"/>
<text x="400.5" y="353.6" font-size="9.6" textLength="10.73" lengthAdjust="spacingAndGlyphs" >Fe</text>
<rect x="420.56" y="256.51" width="3.75" height="78.89" fill="#70d040"/>
<line x1="422.44" y1="253.91" x2="422.44" y2="259.11" stroke="#a4a4a4" stroke-width="0.7"/>
<line x1="421.64" y1="253.91" x2="423.24" y2="253.91" stroke="#b0b0b0" stroke-width="0.5"/>
<rect x="424.94" y="249.06" width="3.75" height="86.34" fill="#ff0000"/>
<line x1="426.82" y1="246.46" x2="426.82" y2="251.66" stroke="#a4a4a4" stroke-width="0.7"/>
<line x1="426.02" y1="246.46" x2="427.62" y2="246.46" stroke="#b0b0b0" stroke-width="0.5"/>
<rect x="429.32" y="241.28" width="3.75" height="94.12" fill="#0db8f0"/>
<line x1="431.2" y1="238.68" x2="431.2" y2="243.88" stroke="#a4a4a4" stroke-width="0.7"/>
<line x1="430.4" y1="238.68" x2="432" y2="238.68" stroke="#b0b0b0" stroke-width="0.5"/>
<rect x="433.7" y="229.31" width="3.75" height="106.09" fill="#7f2faa"/>
<line x1="435.58" y1="226.71" x2="435.58" y2="231.91" stroke="#a4a4a4" stroke-width="0.7"/>
<line x1="434.78" y1="226.71" x2="436.38" y2="226.71" stroke="#b0b0b0" stroke-width="0.5"/>
<rect x="438.08" y="235.72" width="3.75" height="99.68" fill="#fba3a3"/>
<line x1="439.96" y1="233.12" x2="439.96" y2="238.32" stroke="#a4a4a4" stroke-width="0.7"/>
<line x1="439.16" y1="233.12" x2="440.76" y2="233.12" stroke="#b0b0b0" stroke-width="0.5"/>
<text x="423" y="353.6" font-size="9.6" textLength="16.25" lengthAdjust="spacingAndGlyphs" >Mn</text>
<rect x="445.7" y="265.13" width="3.75" height="70.27" fill="#70d040"/>
<line x1="447.57" y1="262.53" x2="447.57" y2="267.73" stroke="#a4a4a4" stroke-width="0.7"/>
<line x1="446.77" y1="262.53" x2="448.37" y2="262.53" stroke="#b0b0b0" stroke-width="0.5"/>
<rect x="450.08" y="258.72" width="3.75" height="76.68" fill="#ff0000"/>
<line x1="451.95" y1="256.12" x2="451.95" y2="261.32" stroke="#a4a4a4" stroke-width="0.7"/>
<line x1="451.15" y1="256.12" x2="452.75" y2="256.12" stroke="#b0b0b0" stroke-width="0.5"/>
<rect x="454.46" y="255.67" width="3.75" height="79.73" fill="#0db8f0"/>
<line x1="456.33" y1="253.07" x2="456.33" y2="258.27" stroke="#a4a4a4" stroke-width="0.7"/>
<line x1="455.53" y1="253.07" x2="457.13" y2="253.07" stroke="#b0b0b0" stroke-width="0.5"/>
<rect x="458.84" y="237.19" width="3.75" height="98.21" fill="#7f2faa"/>
<line x1="460.71" y1="234.59" x2="460.71" y2="239.79" stroke="#a4a4a4" stroke-width="0.7"/>
<line x1="459.91" y1="234.59" x2="461.51" y2="234.59" stroke="#b0b0b0" stroke-width="0.5"/>
<rect x="463.22" y="256.09" width="3.75" height="79.31" fill="#fba3a3"/>
<line x1="465.09" y1="253.49" x2="465.09" y2="258.69" stroke="#a4a4a4" stroke-width="0.7"/>
<line x1="464.29" y1="253.49" x2="465.89" y2="253.49" stroke="#b0b0b0" stroke-width="0.5"/>
<text x="451.22" y="353.6" font-size="9.6" textLength="9.9" lengthAdjust="spacingAndGlyphs" >Cr</text>
<rect x="470.83" y="262.82" width="3.75" height="72.58" fill="#70d040"/>
<line x1="472.71" y1="260.22" x2="472.71" y2="265.42" stroke="#a4a4a4" stroke-width="0.7"/>
<line x1="471.91" y1="260.22" x2="473.51" y2="260.22" stroke="#b0b0b0" stroke-width="0.5"/>
<rect x="475.21" y="248.22" width="3.75" height="87.18" fill="#ff0000"/>
<line x1="477.09" y1="245.62" x2="477.09" y2="250.82" stroke="#a4a4a4" stroke-width="0.7"/>
<line x1="476.29" y1="245.62" x2="477.89" y2="245.62" stroke="#b0b0b0" stroke-width="0.5"/>
<rect x="479.59" y="250" width="3.75" height="85.4" fill="#0db8f0"/>
<line x1="481.47" y1="247.4" x2="481.47" y2="252.6" stroke="#a4a4a4" stroke-width="0.7"/>
<line x1="480.67" y1="247.4" x2="482.27" y2="247.4" stroke="#b0b0b0" stroke-width="0.5"/>
<rect x="483.97" y="240.23" width="3.75" height="95.17" fill="#7f2faa"/>
<line x1="485.85" y1="237.63" x2="485.85" y2="242.83" stroke="#a4a4a4" stroke-width="0.7"/>
<line x1="485.05" y1="237.63" x2="486.65" y2="237.63" stroke="#b0b0b0" stroke-width="0.5"/>
<rect x="488.35" y="237.71" width="3.75" height="97.69" fill="#fba3a3"/>
<line x1="490.23" y1="235.11" x2="490.23" y2="240.31" stroke="#a4a4a4" stroke-width="0.7"/>
<line x1="489.43" y1="235.11" x2="491.03" y2="235.11" stroke="#b0b0b0" stroke-width="0.5"/>
<text x="475.5" y="353.6" font-size="9.6" textLength="12.07" lengthAdjust="spacingAndGlyphs" >Cu</text>
<rect x="495.96" y="253.57" width="3.75" height="81.83" fill="#70d040"/>
<line x1="497.84" y1="250.97" x2="497.84" y2="256.17" stroke="#a4a4a4" stroke-width="0.7"/>
<line x1="497.04" y1="250.97" x2="498.64" y2="250.97" stroke="#b0b0b0" stroke-width="0.5"/>
<rect x="500.34" y="254.2" width="3.75" height="81.2" fill="#ff0000"/>
<line x1="502.22" y1="251.6" x2="502.22" y2="256.8" stroke="#a4a4a4" stroke-width="0.7"/>
<line x1="501.42" y1="251.6" x2="503.02" y2="251.6" stroke="#b0b0b0" stroke-width="0.5"/>
<rect x="504.72" y="246.32" width="3.75" height="89.08" fill="#0db8f0"/>
<line x1="506.6" y1="243.72" x2="506.6" y2="248.92" stroke="#a4a4a4" stroke-width="0.7"/>
<line x1="505.8" y1="243.72" x2="507.4" y2="243.72" stroke="#b0b0b0" stroke-width="0.5"/>
<rect x="509.1" y="236.35" width="3.75" height="99.05" fill="#7f2faa"/>
<line x1="510.98" y1="233.75" x2="510.98" y2="238.95" stroke="#a4a4a4" stroke-width="0.7"/>
<line x1="510.18" y1="233.75" x2="511.78" y2="233.75" stroke="#b0b0b0" stroke-width="0.5"/>
<rect x="513.49" y="240.02" width="3.75" height="95.38" fill="#fba3a3"/>
<line x1="515.36" y1="237.42" x2="515.36" y2="242.62" stroke="#a4a4a4" stroke-width="0.7"/>
<line x1="514.56" y1="237.42" x2="516.16" y2="237.42" stroke="#b0b0b0" stroke-width="0.5"/>
<text x="500.53" y="353.6" font-size="9.6" textLength="12.02" lengthAdjust="spacingAndGlyphs" >Co</text>
<rect x="521.1" y="253.15" width="3.75" height="82.25" fill="#70d040"/>
<line x1="522.97" y1="250.55" x2="522.97" y2="255.75" stroke="#a4a4a4" stroke-width="0.7"/>
<line x1="522.17" y1="250.55" x2="523.77" y2="250.55" stroke="#b0b0b0" stroke-width="0.5"/>
<rect x="525.48" y="256.09" width="3.75" height="79.31" fill="#ff0000"/>
<line x1="527.35" y1="253.49" x2="527.35" y2="258.69" stroke="#a4a4a4" stroke-width="0.7"/>
<line x1="526.55" y1="253.49" x2="528.15" y2="253.49" stroke="#b0b0b0" stroke-width="0.5"/>
<rect x="529.86" y="250.21" width="3.75" height="85.19" fill="#0db8f0"/>
<line x1="531.73" y1="247.61" x2="531.73" y2="252.81" stroke="#a4a4a4" stroke-width="0.7"/>
<line x1="530.93" y1="247.61" x2="532.53" y2="247.61" stroke="#b0b0b0" stroke-width="0.5"/>
<rect x="534.24" y="240.02" width="3.75" height="95.38" fill="#7f2faa"/>
<line x1="536.11" y1="237.42" x2="536.11" y2="242.62" stroke="#a4a4a4" stroke-width="0.7"/>
<line x1="535.31" y1="237.42" x2="536.91" y2="237.42" stroke="#b0b0b0" stroke-width="0.5"/>
<rect x="538.62" y="243.38" width="3.75" height="92.02" fill="#fba3a3"/>
<line x1="540.49" y1="240.78" x2="540.49" y2="245.98" stroke="#a4a4a4" stroke-width="0.7"/>
<line x1="539.69" y1="240.78" x2="541.29" y2="240.78" stroke="#b0b0b0" stroke-width="0.5"/>
<text x="526.54" y="353.6" font-size="9.6" textLength="10.32" lengthAdjust="spacingAndGlyphs" >Ni</text>
<text x="301.58" y="338.75" font-size="10.1" textLength="5.85" lengthAdjust="spacingAndGlyphs" >0</text>
<text x="296.05" y="317.74" font-size="10.1" textLength="11.37" lengthAdjust="spacingAndGlyphs" >20</text>
<text x="296.25" y="296.73" font-size="10.1" textLength="11.16" lengthAdjust="spacingAndGlyphs" >40</text>
<text x="296.02" y="275.73" font-size="10.1" textLength="11.4" lengthAdjust="spacingAndGlyphs" >60</text>
<text x="296.08" y="254.72" font-size="10.1" textLength="11.34" lengthAdjust="spacingAndGlyphs" >80</text>
<text x="290.15" y="233.71" font-size="10.1" textLength="17.28" lengthAdjust="spacingAndGlyphs" >100</text>
<text x="290.15" y="212.7" font-size="10.1" textLength="17.28" lengthAdjust="spacingAndGlyphs" >120</text>
<rect x="292.4" y="362.1" width="4.8" height="4.8" fill="#70d040"/>
<text x="299.38" y="366.8" font-size="8" textLength="36.42" lengthAdjust="spacingAndGlyphs" >4M HNO3</text>
<rect x="341.7" y="362.1" width="4.8" height="4.8" fill="#ff0000"/>
<text x="348.21" y="366.8" font-size="8" textLength="36.58" lengthAdjust="spacingAndGlyphs" >2M HNO3</text>
<rect x="390.4" y="362.1" width="4.8" height="4.8" fill="#0db8f0"/>
<text x="397.38" y="366.8" font-size="8" textLength="36.82" lengthAdjust="spacingAndGlyphs" >1M HNO3</text>
<rect x="439.9" y="362.1" width="4.8" height="4.8" fill="#7f2faa"/>
<text x="446.38" y="366.8" font-size="8" textLength="43.32" lengthAdjust="spacingAndGlyphs" >0.5M HNO3</text>
<rect x="495.7" y="362.1" width="4.8" height="4.8" fill="#fba3a3"/>
<text x="503.22" y="366.8" font-size="8" textLength="26.94" lengthAdjust="spacingAndGlyphs" >2M HCl</text>
<text x="89.19" y="11.6" font-size="10.8" textLength="96.03" lengthAdjust="spacingAndGlyphs" >(a) Neocuproine/GO</text>
<text x="360.4" y="11.6" font-size="10.8" textLength="99.02" lengthAdjust="spacingAndGlyphs" >(b) Batocuproine/GO</text>
<text x="89.5" y="197.5" font-size="10.8" textLength="95.23" lengthAdjust="spacingAndGlyphs" >(c) Neocuproine/GO</text>
<text x="360.4" y="197.5" font-size="10.8" textLength="99.02" lengthAdjust="spacingAndGlyphs" >(d) Batocuproine/GO</text>
<text transform="translate(12.6,133.13) rotate(-90)" x="0" y="0" font-size="9.4" textLength="107.47" lengthAdjust="spacingAndGlyphs">Adsorption efficiency, %</text>
<text transform="translate(285.4,133.13) rotate(-90)" x="0" y="0" font-size="9.4" textLength="107.97" lengthAdjust="spacingAndGlyphs">Adsorption efficiency, %</text>
<text transform="translate(13.4,300.54) rotate(-90)" x="0" y="0" font-size="9.7" textLength="57.3" lengthAdjust="spacingAndGlyphs">Recovery, %</text>
<text transform="translate(285.9,300.54) rotate(-90)" x="0" y="0" font-size="9.7" textLength="57.3" lengthAdjust="spacingAndGlyphs">Recovery, %</text>
</g></svg>
</body></html>
